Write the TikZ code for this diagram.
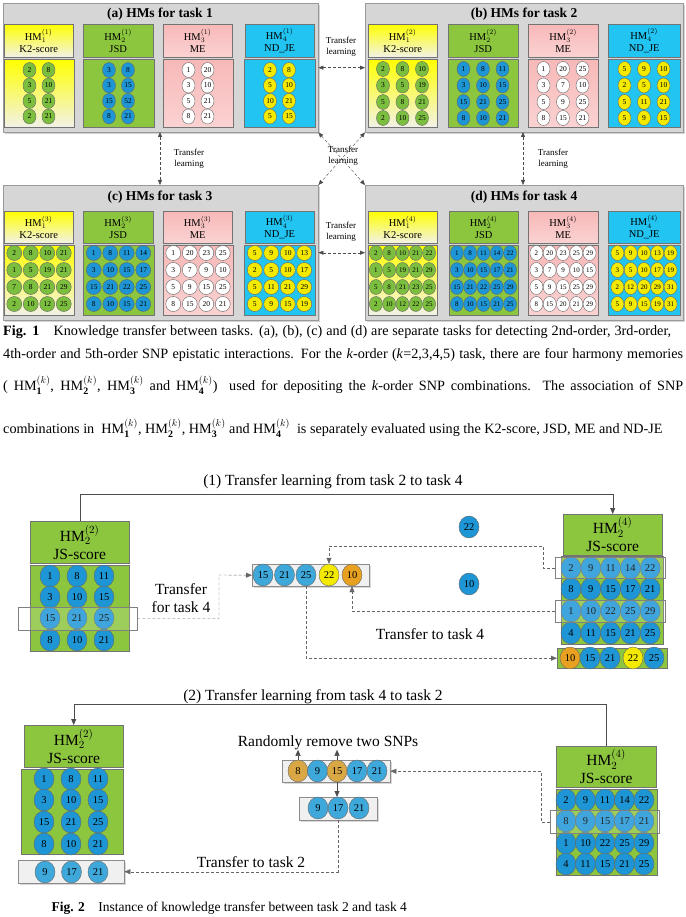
\documentclass[tikz,border=0pt]{standalone}
\usepackage{fontspec}
\setmainfont{Liberation Serif}
\usetikzlibrary{shapes.geometric,arrows.meta,shadows}

\definecolor{hmyel}{HTML}{FFFF00}
\definecolor{hmpale}{HTML}{F2F2E8}
\definecolor{hmgreen}{HTML}{8CC63F}
\definecolor{hmpink}{HTML}{F8B8B8}
\definecolor{hmpinkl}{HTML}{FAD2D2}
\definecolor{hmcyan}{HTML}{22C4F2}
\definecolor{snpgreen}{HTML}{7CBF3F}
\definecolor{snpblue}{HTML}{1E96D6}
\definecolor{snpblue2}{HTML}{3EA8DA}
\definecolor{snpyel}{HTML}{F4EA00}
\definecolor{snporange}{HTML}{E8A020}
\definecolor{snpgold}{HTML}{D9A845}

\tikzset{
  panel/.style={draw=black!40, fill=black!16, anchor=north west, inner sep=0,
    drop shadow={shadow xshift=2pt, shadow yshift=-2pt, opacity=0.35}},
  box/.style={draw=black!55, anchor=north west, inner sep=0, align=center,
    font=\fontsize{10.5}{12}\selectfont},
  bigbox/.style={box, font=\fontsize{15.5}{18}\selectfont},
  k2/.style={top color=hmyel, bottom color=hmpale},
  jsd/.style={fill=hmgreen},
  me/.style={top color=hmpink, bottom color=hmpinkl},
  nd/.style={fill=hmcyan},
  hl/.style={draw=black!50, fill=white, fill opacity=0.15, anchor=north west, inner sep=0},
  rowbox/.style={draw=black!45, fill=black!6, anchor=north west, inner sep=0,
    drop shadow={shadow xshift=1.5pt, shadow yshift=-1.5pt, opacity=0.3}},
  snp/.style={ellipse, draw=black!60, inner sep=0, minimum width=13pt,
    minimum height=15pt, font=\fontsize{7.5}{8}\selectfont},
  sg/.style={snp, fill=snpgreen}, sb/.style={snp, fill=snpblue},
  sw/.style={snp, fill=white}, sy/.style={snp, fill=snpyel},
  big/.style={ellipse, draw=black!60, inner sep=0, minimum width=20pt,
    minimum height=22pt, fill=snpblue, font=\fontsize{10.5}{11}\selectfont},
  big2/.style={big, fill=snpblue2},
  lbl/.style={font=\fontsize{9}{10.5}\selectfont, align=center},
  ttl/.style={font=\bfseries\fontsize{13.5}{15}\selectfont},
  txt/.style={font=\fontsize{15.5}{18}\selectfont, align=center},
  tarr/.style={densely dashed, black!70, {Triangle[length=5pt,width=4pt]}-{Triangle[length=5pt,width=4pt]}},
  sarr/.style={black!70, -{Triangle[length=6pt,width=5pt]}},
  darr/.style={densely dashed, black!60, -{Triangle[length=6pt,width=5pt]}},
  capline/.style={anchor=west, align=justify, font=\fontsize{14.2}{16}\selectfont, inner sep=0},
}

% name, x left, y top, x right, y bottom, style, text
\newcommand\bx[7]{\node[#6, minimum width=#4pt-#2pt, minimum height=#5pt-#3pt] (#1) at (#2,#3) {#7};}
% first x, step, y, style, list
\newcommand\snprow[5]{\edef\snplist{#5}\foreach \v [count=\i] in \snplist \node[#4] at ({#1+(\i-1)*#2},#3) {\v};}
\newcommand\hmt[2]{$\mathrm{HM}_{#1}^{(#2)}$}

\begin{document}
\begin{tikzpicture}[x=1pt,y=-1pt]
\useasboundingbox (0,0) rectangle (685,917);

% ---------------- Fig. 1 panels
\bx{pa}{3}{3}{318}{132}{panel}{}
\bx{pb}{365}{3}{683}{132}{panel}{}
\bx{pc}{3}{185}{318}{320}{panel}{}
\bx{pd}{365}{185}{683}{320}{panel}{}
\node[ttl] (ta) at (160,14) {(a) HMs for task 1};
\node[ttl] (tb) at (524,14) {(b) HMs for task 2};
\node[ttl] (tc) at (160,197) {(c) HMs for task 3};
\node[ttl] (td) at (524,197) {(d) HMs for task 4};

% (a)
\bx{a1}{4}{24}{73}{57}{box,k2}{\hmt1{1}\\K2-score}
\bx{a2}{83}{24}{153}{57}{box,jsd}{\hmt2{1}\\JSD}
\bx{a3}{163}{24}{232}{57}{box,me}{\hmt3{1}\\ME}
\bx{a4}{245}{24}{314}{57}{box,nd}{\hmt4{1}\\ND\_JE}
\bx{a1b}{4}{59}{74}{127}{box,k2}{}
\bx{a2b}{83}{59}{154}{127}{box,jsd}{}
\bx{a3b}{163}{59}{233}{127}{box,me}{}
\bx{a4b}{244}{59}{315}{127}{box,nd}{}
\foreach \y/\ka/\kb/\kc/\kd in {70/{2,8}/{3,8}/{1,20}/{2,8}, 85.5/{3,10}/{3,15}/{3,10}/{5,10},
  101/{5,21}/{15,52}/{5,21}/{10,21}, 116.5/{2,21}/{8,21}/{8,21}/{5,15}}{
  \snprow{29.5}{19}{\y}{sg}{\ka}
  \snprow{109}{19}{\y}{sb}{\kb}
  \snprow{188.5}{19}{\y}{sw}{\kc}
  \snprow{270}{19}{\y}{sy}{\kd}
}

% (b)
\bx{b1}{368}{24}{437}{57}{box,k2}{\hmt1{2}\\K2-score}
\bx{b2}{448}{24}{518}{57}{box,jsd}{\hmt2{2}\\JSD}
\bx{b3}{528}{24}{598}{57}{box,me}{\hmt3{2}\\ME}
\bx{b4}{608}{24}{680}{57}{box,nd}{\hmt4{2}\\ND\_JE}
\bx{b1b}{368}{59}{437}{127}{box,k2}{}
\bx{b2b}{448}{59}{518}{127}{box,jsd}{}
\bx{b3b}{528}{59}{598}{127}{box,me}{}
\bx{b4b}{608}{59}{680}{127}{box,nd}{}
\foreach \y/\ka/\kb/\kc/\kd in {69/{2,8,10}/{1,8,11}/{1,20,25}/{5,9,10},
  85.5/{3,5,19}/{3,10,15}/{3,7,10}/{2,5,10},
  102/{5,8,21}/{15,21,25}/{5,9,25}/{5,11,21},
  118/{2,10,25}/{8,10,21}/{8,15,21}/{5,9,15}}{
  \snprow{383}{19.5}{\y}{sg}{\ka}
  \snprow{463.5}{19.5}{\y}{sb}{\kb}
  \snprow{543.5}{19.5}{\y}{sw}{\kc}
  \snprow{624.5}{19.5}{\y}{sy}{\kd}
}

% (c)
\bx{c1}{4}{211}{73}{243}{box,k2}{\hmt1{3}\\K2-score}
\bx{c2}{83}{211}{153}{243}{box,jsd}{\hmt2{3}\\JSD}
\bx{c3}{163}{211}{232}{243}{box,me}{\hmt3{3}\\ME}
\bx{c4}{245}{211}{314}{243}{box,nd}{\hmt4{3}\\ND\_JE}
\bx{c1b}{4}{245}{74}{315}{box,k2}{}
\bx{c2b}{83}{245}{154}{315}{box,jsd}{}
\bx{c3b}{163}{245}{233}{315}{box,me}{}
\bx{c4b}{244}{245}{315}{315}{box,nd}{}
\foreach \y/\ka/\kb/\kc/\kd in {253/{2,8,10,21}/{1,8,11,14}/{1,20,23,25}/{5,9,10,13},
  270/{1,5,19,21}/{3,10,15,17}/{3,7,9,10}/{2,5,10,17},
  287/{7,8,21,29}/{15,21,22,25}/{5,9,15,25}/{5,11,21,29},
  304/{2,10,12,25}/{8,10,15,21}/{8,15,20,21}/{5,9,15,19}}{
  \snprow{14.25}{16.5}{\y}{sg,minimum width=15pt}{\ka}
  \snprow{93.75}{16.5}{\y}{sb,minimum width=15pt}{\kb}
  \snprow{173.25}{16.5}{\y}{sw,minimum width=15pt}{\kc}
  \snprow{254.75}{16.5}{\y}{sy,minimum width=15pt}{\kd}
}

% (d)
\bx{d1}{368}{211}{437}{243}{box,k2}{\hmt1{4}\\K2-score}
\bx{d2}{449}{211}{518}{243}{box,jsd}{\hmt2{4}\\JSD}
\bx{d3}{528}{211}{598}{243}{box,me}{\hmt3{4}\\ME}
\bx{d4}{608}{211}{680}{243}{box,nd}{\hmt4{4}\\ND\_JE}
\bx{d1b}{368}{245}{437}{315}{box,k2}{}
\bx{d2b}{449}{245}{518}{315}{box,jsd}{}
\bx{d3b}{528}{245}{598}{315}{box,me}{}
\bx{d4b}{608}{245}{680}{315}{box,nd}{}
\foreach \y/\ka/\kb/\kc/\kd in {253/{2,8,10,21,22}/{1,8,11,14,22}/{2,20,23,25,29}/{5,9,10,13,19},
  270/{1,5,19,21,29}/{3,10,15,17,21}/{3,7,9,10,15}/{3,5,10,17,19},
  287/{5,8,21,23,25}/{15,21,22,25,29}/{5,9,15,25,29}/{2,12,20,29,31},
  304/{2,10,12,22,25}/{8,10,15,21,25}/{8,15,20,21,29}/{5,9,15,19,31}}{
  \snprow{375.9}{13.3}{\y}{sg,font=\fontsize{7}{7.5}\selectfont}{\ka}
  \snprow{456.9}{13.3}{\y}{sb,font=\fontsize{7}{7.5}\selectfont}{\kb}
  \snprow{536.4}{13.3}{\y}{sw,font=\fontsize{7}{7.5}\selectfont}{\kc}
  \snprow{617.4}{13.3}{\y}{sy,font=\fontsize{7}{7.5}\selectfont}{\kd}
}

% transfer arrows between tasks
\coordinate (va1) at (160,132); \coordinate (vc1) at (160,185);
\coordinate (vb1) at (523,132); \coordinate (vd1) at (523,185);
\draw[tarr] (pa.east) -- (pb.west);
\draw[tarr] (pc.east) -- (pd.west);
\draw[tarr] (va1) -- (vc1);
\draw[tarr] (vb1) -- (vd1);
\draw[tarr] (pa.south east) -- (pd.north west);
\draw[tarr] (pb.south west) -- (pc.north east);
\node[lbl] (l1) at (341,47) {Transfer\\learning};
\node[lbl] (l2) at (341,232) {Transfer\\learning};
\node[lbl] (l3) at (189,159) {Transfer\\learning};
\node[lbl] (l4) at (553,159) {Transfer\\learning};
\node[lbl] (l5) at (343,156) {Transfer\\learning};

% ---------------- Fig. 1 caption
\node[capline, text width=668pt] (cp1) at (3,332) {\textbf{Fig. 1}\quad Knowledge transfer between tasks. (a), (b), (c) and (d) are separate tasks for detecting 2nd-order, 3rd-order,\parfillskip=0pt\par};
\node[capline, text width=680pt] (cp2) at (3,355) {4th-order and 5th-order SNP epistatic interactions. For the \textit{k}-order (\textit{k}=2,3,4,5) task, there are four harmony memories\parfillskip=0pt\par};
\node[capline, text width=680pt] (cp3) at (3,385) {( \hmt{\mathbf 1}{k}, \hmt{\mathbf 2}{k}, \hmt{\mathbf 3}{k} and \hmt{\mathbf 4}{k})\ \ used for depositing the \textit{k}-order SNP combinations. The association of SNP\parfillskip=0pt\par};
\node[capline, align=left] (cp4) at (3,428) {combinations in\ \ \hmt{\mathbf 1}{k}, \hmt{\mathbf 2}{k}, \hmt{\mathbf 3}{k} and \hmt{\mathbf 4}{k}\ \ is separately evaluated using the K2-score, JSD, ME and ND-JE};

% ---------------- Fig. 2 (1)
\node[txt] (t1) at (333,482) {(1) Transfer learning from task 2 to task 4};
\bx{lh}{30}{521}{129}{563}{bigbox,jsd}{\hmt2{2}\\JS-score}
\bx{lb}{30}{565}{129}{651}{box,jsd}{}
\foreach \y/\r in {576/{1,8,11}, 597/{3,10,15}, 618/{15,21,25}, 640/{8,10,21}}{
  \snprow{50}{27}{\y}{big}{\r}
}
\bx{lhl}{18}{607}{137}{630}{hl}{}
\node[txt] (tf4) at (181,598) {Transfer\\for task 4};

\bx{rb1}{252}{564}{369}{586}{rowbox}{}
\node[big2] (r15) at (263,575) {15};
\node[big2] (r21) at (284.5,575) {21};
\node[big2] (r25) at (306,575) {25};
\node[big2, fill=snpyel] (r22) at (329,575) {22};
\node[big2, fill=snporange] (r10) at (352,575) {10};

\node[big] (f22) at (469,527) {22};
\node[big] (f10) at (469,584) {10};

\bx{rh}{563}{514}{662}{555}{bigbox,jsd}{\hmt2{4}\\JS-score}
\bx{rbd}{561}{556}{663}{644}{box,jsd}{}
\foreach \y/\r in {568/{2,9,11,14,22}, 589/{8,9,15,17,21}, 611/{1,10,22,25,29}, 633/{4,11,15,21,25}}{
  \snprow{571}{19.8}{\y}{big}{\r}
}
\bx{rhl1}{555}{557}{665}{578}{hl}{}
\bx{rhl3}{555}{600}{665}{622}{hl}{}
\bx{rx}{557}{648}{667}{668}{box,jsd}{}
\node[big, fill=snporange] (x10) at (570,658) {10};
\node[big] (x15) at (590,658) {15};
\node[big] (x21) at (610,658) {21};
\node[big, fill=snpyel] (x22) at (633,658) {22};
\node[big] (x25) at (654,658) {25};

\coordinate (k1) at (219,575);
\coordinate (k2) at (543,546);
\draw[sarr] (lh.north) -- ++(0,-27) -| (rh.north);
\draw[darr] (lhl.east) -| (k1) -- (rb1.west);
\draw[darr] (rhl1.west) -| (k2) -| (r22.north);
\draw[darr] (rhl3.west) -| (r10.south);
\draw[darr] (r25 |- rb1.south) |- (rx.west);
\node[txt] (tt4) at (430,634) {Transfer to task 4};

% ---------------- Fig. 2 (2)
\node[txt] (t2) at (313,697) {(2) Transfer learning from task 4 to task 2};
\bx{lh2}{24}{725}{123}{767}{bigbox,jsd}{\hmt2{2}\\JS-score}
\bx{lb2}{21}{769}{123}{854}{box,jsd}{}
\foreach \y/\r in {779/{1,8,11}, 800/{3,10,15}, 822/{15,21,25}, 844/{8,10,21}}{
  \snprow{44}{27}{\y}{big}{\r}
}
\bx{lr2}{18}{860}{124}{883}{rowbox}{}
\snprow{45}{26.5}{872}{big2}{9,17,21}

\node[txt] (rm) at (328,743) {Randomly remove two SNPs};
\bx{rb5}{282}{760}{390}{782}{rowbox}{}
\node[big2, fill=snpgold] (g8) at (298,771) {8};
\node[big2] (g9) at (317.5,771) {9};
\node[big2, fill=snpgold] (g15) at (337,771) {15};
\node[big2] (g17) at (357,771) {17};
\node[big2] (g21) at (377,771) {21};
\bx{rb3}{299}{797}{377}{820}{rowbox}{}
\node[big2] (m9) at (318,808) {9};
\node[big2] (m17) at (338,808) {17};
\node[big2] (m21) at (359,808) {21};

\bx{rh2}{556}{746}{656}{787}{bigbox,jsd}{\hmt2{4}\\JS-score}
\bx{rb2}{556}{789}{657}{875}{box,jsd}{}
\foreach \y/\r in {800/{2,9,11,14,22}, 821/{8,9,15,17,21}, 843/{1,10,22,25,29}, 864/{4,11,15,21,25}}{
  \snprow{566}{19.5}{\y}{big}{\r}
}
\bx{rhl2}{550}{810}{659}{833}{hl}{}

\draw[sarr] (rh2.north) -- ++(0,-42) -| (lh2.north);
\draw[sarr] (g8.north) -- ++(0,-10);
\draw[sarr] (g15.north) -- ++(0,-10);
\draw[sarr] (g15 |- rb5.south) -- (g15 |- rb3.north);
\draw[darr] (rhl2.west) -- ++(-9,0) |- (rb5.east);
\draw[darr] (m17 |- rb3.south) |- (lr2.east);
\node[txt] (tt2) at (251,862) {Transfer to task 2};

\node[anchor=west, font=\fontsize{13.5}{15}\selectfont] (cap2) at (48,908) {\textbf{Fig. 2}\quad Instance of knowledge transfer between task 2 and task 4};
\end{tikzpicture}
\end{document}
